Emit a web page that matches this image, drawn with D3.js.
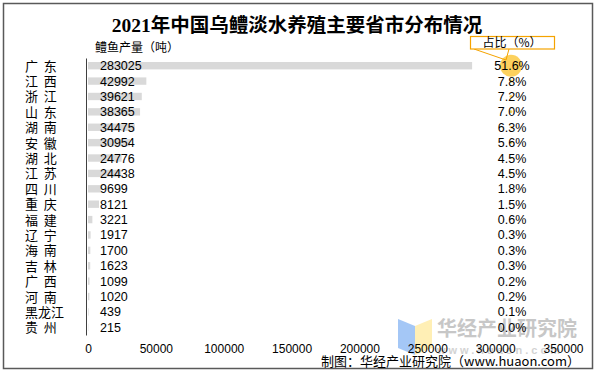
<!DOCTYPE html>
<html>
<head>
<meta charset="utf-8">
<script src="https://cdn.jsdelivr.net/npm/d3@7"></script>
<style>
  body { margin: 0; background: #fff; }
  svg text { font-family: "Liberation Sans", Arial, "Noto Sans CJK SC", sans-serif; }
</style>
</head>
<body>
<div id="chart"></div>
<script>
// chart data
var provinces = ["广 东", "江 西", "浙 江", "山 东", "湖 南", "安 徽", "湖 北", "江 苏", "四 川",
    "重 庆", "福 建", "辽 宁", "海 南", "吉 林", "广 西", "河 南", "黑龙江", "贵 州"];
var output = [283025, 42992, 39621, 38365, 34475, 30954, 24776, 24438, 9699,
    8121, 3221, 1917, 1700, 1623, 1099, 1020, 439, 215];
var share = [51.6, 7.8, 7.2, 7.0, 6.3, 5.6, 4.5, 4.5, 1.8,
    1.5, 0.6, 0.3, 0.3, 0.3, 0.2, 0.2, 0.1, 0.0];
var xTicks = [0, 50000, 100000, 150000, 200000, 250000, 300000, 350000];

var svgWidth = 596;
var svgHeight = 373;

var svg = d3.select("#chart")
    .append("svg")
    .attr("width", svgWidth)
    .attr("height", svgHeight);

// outer frame
svg.append("rect")
    .attr("x", 3.5).attr("y", 3.5)
    .attr("width", 589).attr("height", 365)
    .attr("fill", "none")
    .attr("stroke", "#595959")
    .attr("stroke-width", 1.5);

// scales
var xScale = d3.scaleLinear()
    .domain([0, 350000])
    .range([88, 563]);

var yScale = d3.scaleBand()
    .domain(provinces)
    .range([58, 335])
    .paddingInner(0.52)
    .paddingOuter(0.26);

var rScale = d3.scaleLinear()
    .domain([0, d3.max(share)])
    .range([0, 11]);

// watermark behind everything
var wm = svg.append("g").attr("opacity", 0.55);
wm.append("path")
    .attr("d", "M398,319 L415,326 L415,355 L398,348 Z")
    .attr("fill", "#5b9bf0");
wm.append("path")
    .attr("d", "M415,326 L432,319 L432,348 L415,355 Z")
    .attr("fill", "#ffe27a");
wm.append("text")
    .attr("x", 437).attr("y", 336)
    .style("font-size", "20px")
    .style("font-weight", "bold")
    .style("font-family", "Noto Sans CJK SC")
    .style("fill", "#9a9a9a")
    .text("华经产业研究院");
wm.append("text")
    .attr("x", 437).attr("y", 354)
    .style("font-size", "11px")
    .style("font-weight", "bold")
    .style("letter-spacing", "3px")
    .style("fill", "#b0b0b0")
    .text("www.huaon.com");

// title
svg.append("text")
    .attr("x", 297).attr("y", 32)
    .style("text-anchor", "middle")
    .style("font-size", "19.5px")
    .style("font-weight", "bold")
    .style("font-family", "'Liberation Serif', 'Noto Sans CJK SC', serif")
    .text("2021年中国乌鳢淡水养殖主要省市分布情况");

svg.append("text")
    .attr("x", 95).attr("y", 52)
    .style("font-size", "12px")
    .style("font-family", "Noto Sans CJK SC")
    .text("鳢鱼产量（吨）");

// bars
svg.selectAll(".bar")
    .data(output)
    .enter()
    .append("rect")
    .attr("class", "bar")
    .attr("x", xScale(0))
    .attr("y", (d, i) => yScale(provinces[i]))
    .attr("width", d => xScale(d) - xScale(0))
    .attr("height", yScale.bandwidth())
    .attr("fill", "#d9d9d9");

// value labels
svg.selectAll(".val")
    .data(output)
    .enter()
    .append("text")
    .attr("class", "val")
    .attr("x", 100)
    .attr("y", (d, i) => yScale(provinces[i]) + yScale.bandwidth() / 2 + 4.5)
    .style("font-size", "12.5px")
    .text(d => d);

// province labels
svg.selectAll(".cat")
    .data(provinces)
    .enter()
    .append("text")
    .attr("class", "cat")
    .attr("x", 25)
    .attr("y", d => yScale(d) + yScale.bandwidth() / 2 + 5)
    .style("font-size", "13px")
    .style("font-family", "Noto Sans CJK SC")
    .style("white-space", "pre")
    .attr("xml:space", "preserve")
    .text(d => d.length == 3 && d[1] == " " ? d.replace(" ", "  ") : d);

// left axis line
var leftAxis = d3.axisLeft(yScale).tickSize(0).tickFormat("");
var gl = svg.append("g")
    .attr("transform", "translate(86,0)")
    .call(leftAxis);
gl.select(".domain").attr("stroke", "#404040");

// bottom tick labels
var bottomAxis = d3.axisBottom(xScale)
    .tickValues(xTicks)
    .tickSize(0)
    .tickFormat(d3.format("d"));
var gb = svg.append("g")
    .attr("transform", "translate(0,341)")
    .call(bottomAxis);
gb.select(".domain").remove();
gb.selectAll("text")
    .style("font-size", "12px")
    .style("font-family", "Liberation Sans")
    .attr("fill", "#000");

// share bubbles
svg.selectAll(".bub")
    .data(share)
    .enter()
    .append("circle")
    .attr("class", "bub")
    .attr("cx", 511)
    .attr("cy", (d, i) => yScale(provinces[i]) + yScale.bandwidth() / 2)
    .attr("r", d => rScale(d))
    .attr("fill", "#fbc942")
    .attr("opacity", 0.85);

// callout for share legend
svg.append("path")
    .attr("d", "M474,49 L506,60 L509,49")
    .attr("fill", "none")
    .attr("stroke", "#f5a300")
    .attr("stroke-width", 1);
svg.append("rect")
    .attr("x", 470.5).attr("y", 36.5)
    .attr("width", 84).attr("height", 12.5)
    .attr("fill", "#fff")
    .attr("stroke", "#f5a300")
    .attr("stroke-width", 1.2);
svg.append("text")
    .attr("x", 512).attr("y", 47)
    .style("text-anchor", "middle")
    .style("font-size", "12px")
    .style("font-family", "Noto Sans CJK SC")
    .text("占比（%）");

// share labels
svg.selectAll(".pct")
    .data(share)
    .enter()
    .append("text")
    .attr("class", "pct")
    .attr("x", 512)
    .attr("y", (d, i) => yScale(provinces[i]) + yScale.bandwidth() / 2 + 4.5)
    .style("text-anchor", "middle")
    .style("font-size", "12.5px")
    .text(d => d3.format(".1f")(d) + "%");

// source
svg.append("text")
    .attr("x", 580).attr("y", 366)
    .style("text-anchor", "end")
    .style("font-size", "13px")
    .style("font-family", "Noto Sans CJK SC")
    .text("制图：华经产业研究院（www.huaon.com）");
</script>
</body>
</html>
